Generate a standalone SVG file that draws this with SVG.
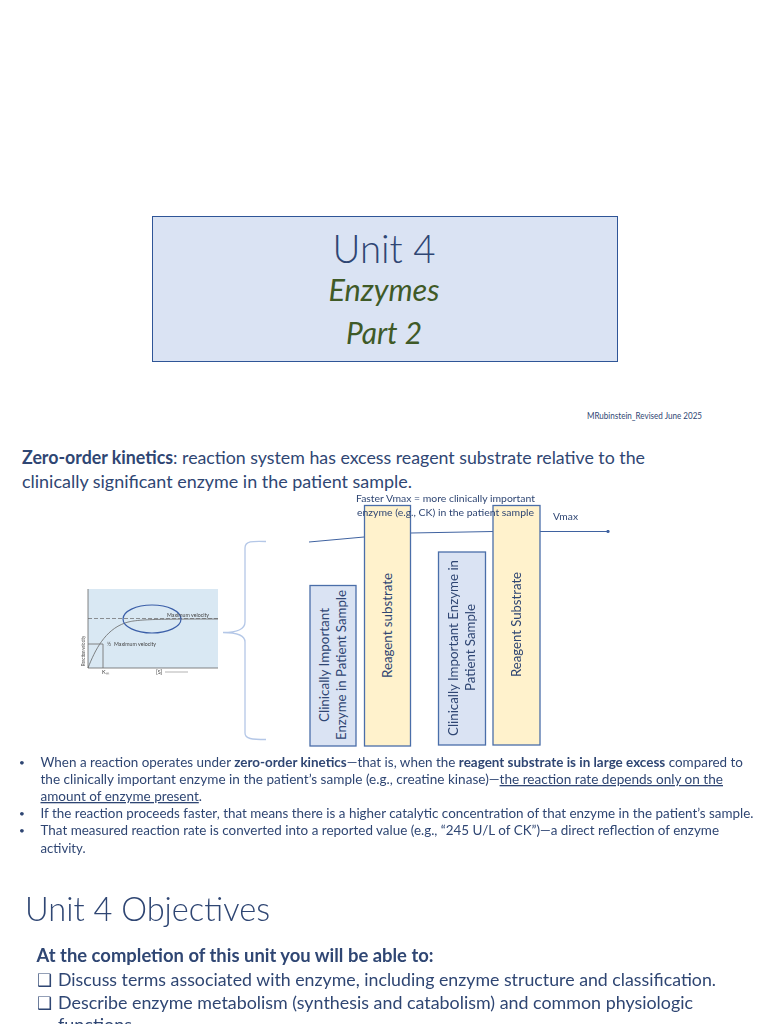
<svg xmlns="http://www.w3.org/2000/svg" width="768" height="1024" viewBox="0 0 768 1024">
<defs>
<marker id="dot" markerWidth="4" markerHeight="4" refX="2" refY="2" markerUnits="userSpaceOnUse"><circle cx="2" cy="2" r="1.6" fill="#3f62a0"/></marker>
<filter id="soft" x="-5%" y="-5%" width="110%" height="110%"><feGaussianBlur stdDeviation="0.35"/></filter>
</defs>
<style>
text{font-family:"Lato","Liberation Sans",sans-serif;fill:#2f4673}
.body{font-size:13px}
.dot{font-size:10px}
.b{font-weight:700}
.u{text-decoration:underline}
.box{stroke:#4a6ea9;stroke-width:1.3}
.enz{fill:#dae3f3}
.sub{fill:#fff2cc}
.rot{font-size:13.5px;text-anchor:middle}
.note{font-size:10px}
.g{fill:#444;font-size:5.5px}
.ax{stroke:#666;fill:none;stroke-width:.8}
</style>
<rect width="768" height="1024" fill="#fff"/>
<g id="title-box">
<rect x="152.500" y="216.500" width="465" height="145" fill="#dae3f3" stroke="#2f5597" stroke-width="1"/>
<text x="384" y="263" text-anchor="middle" font-size="39" font-weight="300" textLength="103" lengthAdjust="spacingAndGlyphs">Unit 4</text>
<text x="384" y="301" text-anchor="middle" font-size="30" font-style="italic" style="fill:#3f5a27" textLength="111" lengthAdjust="spacingAndGlyphs">Enzymes</text>
<text x="384" y="344" text-anchor="middle" font-size="30" font-style="italic" style="fill:#3f5a27" textLength="76" lengthAdjust="spacingAndGlyphs">Part 2</text>
</g>
<text x="587" y="419" font-size="8.500" textLength="115" lengthAdjust="spacingAndGlyphs">MRubinstein_Revised June 2025</text>
<text x="22" y="464" font-size="18" textLength="623" lengthAdjust="spacingAndGlyphs"><tspan class="b">Zero-order kinetics</tspan>: reaction system has excess reagent substrate relative to the</text>
<text x="22" y="488" font-size="18" textLength="390" lengthAdjust="spacingAndGlyphs">clinically significant enzyme in the patient sample.</text>
<g id="graph" filter="url(#soft)">
<rect x="88" y="589" width="130" height="79" fill="#d9e8f3"/>
<path class="ax" d="M88 589V668H218"/>
<path d="M88 618.500H218" stroke="#666" stroke-width=".7" stroke-dasharray="4 2" fill="none"/>
<path class="ax" d="M88 668C95 650 105 630 125 623C135 619.500 150 619 218 619"/>
<path d="M88 644H103V668" stroke="#777" fill="none" stroke-width=".9"/>
<ellipse cx="152" cy="619" rx="29" ry="14" fill="none" stroke="#3a5ea8" stroke-width="1.200"/>
<text class="g" x="167" y="617" textLength="42" lengthAdjust="spacingAndGlyphs">Maximum velocity</text>
<text class="g" x="114" y="646" textLength="42" lengthAdjust="spacingAndGlyphs">Maximum velocity</text>
<text class="g" x="107" y="646">½</text>
<text class="g" transform="translate(85,666) rotate(-90)" textLength="30" lengthAdjust="spacingAndGlyphs">Reaction velocity</text>
<text class="g" x="102" y="674">Kₘ</text>
<text class="g" x="156" y="674">[S]</text>
<path d="M165 672H188" stroke="#666" stroke-width=".5"/>
</g>
<g id="connectors">
<path id="brace" d="M266 541.500C252 541 245 541 245 548V622C245 630 236 632.500 223 632.500C236 632.500 245 635 245 642V733C245 739 252 739.500 266 739.500" fill="none" stroke="#b4c7e7" stroke-width="1.300"/>
<path id="vmax-line" d="M309 542L364 537L411 533L493 531.500L540 531.500H608" fill="none" stroke="#3f62a0" stroke-width="1" marker-end="url(#dot)"/>
</g>
<g id="enzyme-1"><rect class="box enz" x="310" y="585.500" width="46" height="160.500"/>
<text class="rot" transform="translate(329,665) rotate(-90)" textLength="114" lengthAdjust="spacingAndGlyphs">Clinically Important</text>
<text class="rot" transform="translate(346,665) rotate(-90)" textLength="150" lengthAdjust="spacingAndGlyphs">Enzyme in Patient Sample</text></g>
<g id="substrate-1"><rect class="box sub" x="364.500" y="505.500" width="46" height="240.500"/>
<text class="rot" transform="translate(392,625.500) rotate(-90)" textLength="105" lengthAdjust="spacingAndGlyphs">Reagent substrate</text></g>
<g id="enzyme-2"><rect class="box enz" x="438.500" y="552" width="47" height="193"/>
<text class="rot" transform="translate(458,648) rotate(-90)" textLength="176" lengthAdjust="spacingAndGlyphs">Clinically Important Enzyme in</text>
<text class="rot" transform="translate(475,647.500) rotate(-90)" textLength="87" lengthAdjust="spacingAndGlyphs">Patient Sample</text></g>
<g id="substrate-2"><rect class="box sub" x="493" y="505.500" width="47" height="239.500"/>
<text class="rot" transform="translate(521,624.500) rotate(-90)" textLength="105" lengthAdjust="spacingAndGlyphs">Reagent Substrate</text></g>
<text class="note" x="356" y="502" textLength="179" lengthAdjust="spacingAndGlyphs">Faster Vmax = more clinically important</text>
<text class="note" x="357" y="516" textLength="177" lengthAdjust="spacingAndGlyphs">enzyme (e.g., CK) in the patient sample</text>
<text class="note" x="553" y="520" textLength="25" lengthAdjust="spacingAndGlyphs">Vmax</text>
<g id="bullets">
<text class="dot" x="19" y="766">•</text>
<text class="body" x="40.500" y="767" textLength="702.500" lengthAdjust="spacingAndGlyphs">When a reaction operates under <tspan class="b">zero-order kinetics</tspan>—that is, when the <tspan class="b">reagent substrate is in large excess</tspan> compared to</text>
<text class="body" x="40.500" y="784" textLength="682.500" lengthAdjust="spacingAndGlyphs">the clinically important enzyme in the patient’s sample (e.g., creatine kinase)—<tspan class="u">the reaction rate depends only on the</tspan></text>
<text class="body" x="40.500" y="801" textLength="161.500" lengthAdjust="spacingAndGlyphs"><tspan class="u">amount of enzyme present</tspan>.</text>
<text class="dot" x="19" y="817">•</text>
<text class="body" x="40.500" y="818" textLength="713" lengthAdjust="spacingAndGlyphs">If the reaction proceeds faster, that means there is a higher catalytic concentration of that enzyme in the patient’s sample.</text>
<text class="dot" x="19" y="834">•</text>
<text class="body" x="40.500" y="835" textLength="678.500" lengthAdjust="spacingAndGlyphs">That measured reaction rate is converted into a reported value (e.g., “245 U/L of CK”)—a direct reflection of enzyme</text>
<text class="body" x="40.500" y="853" textLength="45" lengthAdjust="spacingAndGlyphs">activity.</text>
</g>
<g id="objectives">
<text x="25" y="921" font-size="34" font-weight="300" textLength="245" lengthAdjust="spacingAndGlyphs">Unit 4 Objectives</text>
<text x="36.500" y="962" font-size="18" class="b" textLength="397" lengthAdjust="spacingAndGlyphs">At the completion of this unit you will be able to:</text>
<text x="37" y="986" font-size="17" style="font-family:'DejaVu Sans',sans-serif">❑</text>
<text x="58" y="986" font-size="18" textLength="658" lengthAdjust="spacingAndGlyphs">Discuss terms associated with enzyme, including enzyme structure and classification.</text>
<text x="37" y="1009" font-size="17" style="font-family:'DejaVu Sans',sans-serif">❑</text>
<text x="58" y="1009" font-size="18" textLength="635" lengthAdjust="spacingAndGlyphs">Describe enzyme metabolism (synthesis and catabolism) and common physiologic</text>
<text x="58" y="1031" font-size="18" textLength="74" lengthAdjust="spacingAndGlyphs">functions</text>
</g>
</svg>
